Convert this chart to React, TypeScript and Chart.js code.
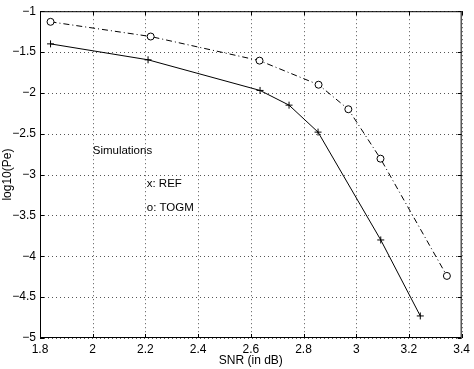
import React, { useEffect, useRef } from "react";
import { Chart, registerables } from "chart.js";

Chart.register(...registerables);

const refX = [1.84, 2.21, 2.635, 2.745, 2.855, 3.093, 3.243];
const refY = [-1.4, -1.595, -1.97, -2.15, -2.48, -3.8, -4.73];
const togmX = [1.84, 2.22, 2.633, 2.857, 2.97, 3.092, 3.344];
const togmY = [-1.13, -1.31, -1.605, -1.9, -2.2, -2.805, -4.24];
const annotations = [
  { text: "Simulations", x: 2.0, y: -2.71 },
  { text: "x: REF", x: 2.205, y: -3.11 },
  { text: "o: TOGM", x: 2.205, y: -3.41 },
];
const xTitle = "SNR (in dB)";
const yTitle = "log10(Pe)";
const FONT = "'Liberation Sans', Arial, sans-serif";

const framePlugin = {
  id: "frame",
  beforeDatasetsDraw(chart: any) {
    const { ctx, chartArea: a, scales } = chart;
    const xs = scales.x, ys = scales.y;
    ctx.save();
    ctx.strokeStyle = "#555";
    ctx.lineWidth = 1;
    ctx.setLineDash([1, 3]);
    ctx.beginPath();
    xs.ticks.forEach((t: any) => {
      const px = Math.round(xs.getPixelForValue(t.value)) + 0.5;
      ctx.moveTo(px, a.top); ctx.lineTo(px, a.bottom);
    });
    ys.ticks.forEach((t: any) => {
      const py = Math.round(ys.getPixelForValue(t.value)) + 0.5;
      ctx.moveTo(a.left, py); ctx.lineTo(a.right, py);
    });
    ctx.stroke();
    ctx.restore();
  },
  afterDraw(chart: any) {
    const { ctx, chartArea: a, scales } = chart;
    ctx.save();
    ctx.strokeStyle = "#000";
    ctx.lineWidth = 1;
    ctx.setLineDash([]);
    ctx.strokeRect(a.left + 0.5, a.top + 0.5, a.right - a.left - 1, a.bottom - a.top - 1);
    const xs = scales.x, ys = scales.y;
    ctx.beginPath();
    xs.ticks.forEach((t: any) => {
      const px = Math.round(xs.getPixelForValue(t.value)) + 0.5;
      ctx.moveTo(px, a.bottom); ctx.lineTo(px, a.bottom - 4);
      ctx.moveTo(px, a.top); ctx.lineTo(px, a.top + 4);
    });
    ys.ticks.forEach((t: any) => {
      const py = Math.round(ys.getPixelForValue(t.value)) + 0.5;
      ctx.moveTo(a.left, py); ctx.lineTo(a.left + 4, py);
      ctx.moveTo(a.right, py); ctx.lineTo(a.right - 4, py);
    });
    ctx.stroke();
    ctx.fillStyle = "#000";
    ctx.font = `11.5px ${FONT}`;
    ctx.textBaseline = "middle";
    ctx.textAlign = "left";
    annotations.forEach((an) => {
      ctx.fillText(an.text, xs.getPixelForValue(an.x), ys.getPixelForValue(an.y));
    });
    ctx.font = `12px ${FONT}`;
    ctx.textAlign = "center";
    ctx.fillText(xTitle, (a.left + a.right) / 2, a.bottom + 23);
    ctx.translate(8, (a.top + a.bottom) / 2);
    ctx.rotate(-Math.PI / 2);
    ctx.fillText(yTitle, 0, 0);
    ctx.restore();
  },
};

export default function App() {
  const ref = useRef<HTMLCanvasElement>(null);
  useEffect(() => {
    document.body.style.margin = "0";
    const chart = new Chart(ref.current!, {
      type: "scatter",
      data: {
        datasets: [
          {
            label: "REF",
            data: refX.map((x, i) => ({ x, y: refY[i] })),
            showLine: true,
            borderColor: "#000",
            borderWidth: 1,
            pointStyle: "cross",
            pointRadius: 3.5,
            pointBorderColor: "#000",
            pointBorderWidth: 1,
          },
          {
            label: "TOGM",
            data: togmX.map((x, i) => ({ x, y: togmY[i] })),
            showLine: true,
            borderColor: "#000",
            borderWidth: 1,
            borderDash: [6, 3, 1, 3],
            pointStyle: "circle",
            pointRadius: 3.5,
            pointBackgroundColor: "#fff",
            pointBorderColor: "#000",
            pointBorderWidth: 1,
          },
        ],
      },
      options: {
        animation: false,
        responsive: false,
        layout: { padding: { top: 6, right: 11, left: 0, bottom: 0 } },
        plugins: { legend: { display: false }, tooltip: { enabled: false } },
        scales: {
          x: {
            type: "linear",
            min: 1.8,
            max: 3.4,
            ticks: {
              stepSize: 0.2,
              color: "#000",
              font: { family: FONT, size: 12 },
              padding: 4,
              callback: (v: any) => String(Math.round(Number(v) * 10) / 10),
            },
            grid: { display: false, drawTicks: false },
            border: { display: false },
            title: { display: false },
            afterFit: (s: any) => { s.height = 31; },
          },
          y: {
            type: "linear",
            min: -5,
            max: -1,
            ticks: {
              stepSize: 0.5,
              color: "#000",
              font: { family: FONT, size: 12 },
              padding: 4,
              callback: (v: any) => String(v).replace("-", "\u2212"),
            },
            grid: { display: false, drawTicks: false },
            border: { display: false },
            title: { display: false },
            afterFit: (s: any) => { s.width = 40; },
          },
        },
      },
      plugins: [framePlugin],
    });
    return () => chart.destroy();
  }, []);
  return (
    <div style={{ position: "fixed", left: 0, top: 0, width: 474, height: 369, background: "#fff" }}>
      <canvas ref={ref} width={474} height={369} />
    </div>
  );
}
